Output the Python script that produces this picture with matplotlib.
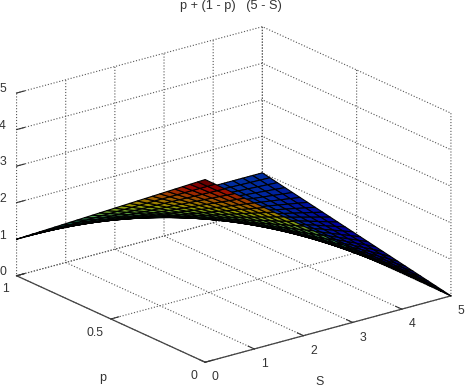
import matplotlib
matplotlib.use('Agg')
import matplotlib.pyplot as plt
from matplotlib.colors import ListedColormap
import numpy as np

plt.rcParams['font.family'] = ['Liberation Sans', 'DejaVu Sans']

S_values = [0.0, 0.2, 0.4, 0.6, 0.8, 1.0, 1.2, 1.4, 1.6, 1.8, 2.0, 2.2, 2.4,
            2.6, 2.8, 3.0, 3.2, 3.4, 3.6, 3.8, 4.0, 4.2, 4.4, 4.6, 4.8, 5.0]
p_values = [0.0, 0.04, 0.08, 0.12, 0.16, 0.2, 0.24, 0.28, 0.32, 0.36, 0.4, 0.44, 0.48,
            0.52, 0.56, 0.6, 0.64, 0.68, 0.72, 0.76, 0.8, 0.84, 0.88, 0.92, 0.96, 1.0]

# one row per p value, columns follow S_values
z_rows = [
    [5.0,4.8,4.6,4.4,4.2,4.0,3.8,3.6,3.4,3.2,3.0,2.8,2.6,2.4,2.2,2.0,1.8,1.6,1.4,1.2,1.0,.8,.6,.4,.2,0.0],
    [4.84,4.648,4.456,4.264,4.072,3.88,3.688,3.496,3.304,3.112,2.92,2.728,2.536,2.344,2.152,1.96,1.768,1.576,1.384,1.192,1.0,.808,.616,.424,.232,.04],
    [4.68,4.496,4.312,4.128,3.944,3.76,3.576,3.392,3.208,3.024,2.84,2.656,2.472,2.288,2.104,1.92,1.736,1.552,1.368,1.184,1.0,.816,.632,.448,.264,.08],
    [4.52,4.344,4.168,3.992,3.816,3.64,3.464,3.288,3.112,2.936,2.76,2.584,2.408,2.232,2.056,1.88,1.704,1.528,1.352,1.176,1.0,.824,.648,.472,.296,.12],
    [4.36,4.192,4.024,3.856,3.688,3.52,3.352,3.184,3.016,2.848,2.68,2.512,2.344,2.176,2.008,1.84,1.672,1.504,1.336,1.168,1.0,.832,.664,.496,.328,.16],
    [4.2,4.04,3.88,3.72,3.56,3.4,3.24,3.08,2.92,2.76,2.6,2.44,2.28,2.12,1.96,1.8,1.64,1.48,1.32,1.16,1.0,.84,.68,.52,.36,.2],
    [4.04,3.888,3.736,3.584,3.432,3.28,3.128,2.976,2.824,2.672,2.52,2.368,2.216,2.064,1.912,1.76,1.608,1.456,1.304,1.152,1.0,.848,.696,.544,.392,.24],
    [3.88,3.736,3.592,3.448,3.304,3.16,3.016,2.872,2.728,2.584,2.44,2.296,2.152,2.008,1.864,1.72,1.576,1.432,1.288,1.144,1.0,.856,.712,.568,.424,.28],
    [3.72,3.584,3.448,3.312,3.176,3.04,2.904,2.768,2.632,2.496,2.36,2.224,2.088,1.952,1.816,1.68,1.544,1.408,1.272,1.136,1.0,.864,.728,.592,.456,.32],
    [3.56,3.432,3.304,3.176,3.048,2.92,2.792,2.664,2.536,2.408,2.28,2.152,2.024,1.896,1.768,1.64,1.512,1.384,1.256,1.128,1.0,.872,.744,.616,.488,.36],
    [3.4,3.28,3.16,3.04,2.92,2.8,2.68,2.56,2.44,2.32,2.2,2.08,1.96,1.84,1.72,1.6,1.48,1.36,1.24,1.12,1.0,.88,.76,.64,.52,.4],
    [3.24,3.128,3.016,2.904,2.792,2.68,2.568,2.456,2.344,2.232,2.12,2.008,1.896,1.784,1.672,1.56,1.448,1.336,1.224,1.112,1.0,.888,.776,.664,.552,.44],
    [3.08,2.976,2.872,2.768,2.664,2.56,2.456,2.352,2.248,2.144,2.04,1.936,1.832,1.728,1.624,1.52,1.416,1.312,1.208,1.104,1.0,.896,.792,.688,.584,.48],
    [2.92,2.824,2.728,2.632,2.536,2.44,2.344,2.248,2.152,2.056,1.96,1.864,1.768,1.672,1.576,1.48,1.384,1.288,1.192,1.096,1.0,.904,.808,.712,.616,.52],
    [2.76,2.672,2.584,2.496,2.408,2.32,2.232,2.144,2.056,1.968,1.88,1.792,1.704,1.616,1.528,1.44,1.352,1.264,1.176,1.088,1.0,.912,.824,.736,.648,.56],
    [2.6,2.52,2.44,2.36,2.28,2.2,2.12,2.04,1.96,1.88,1.8,1.72,1.64,1.56,1.48,1.4,1.32,1.24,1.16,1.08,1.0,.92,.84,.76,.68,.6],
    [2.44,2.368,2.296,2.224,2.152,2.08,2.008,1.936,1.864,1.792,1.72,1.648,1.576,1.504,1.432,1.36,1.288,1.216,1.144,1.072,1.0,.928,.856,.784,.712,.64],
    [2.28,2.216,2.152,2.088,2.024,1.96,1.896,1.832,1.768,1.704,1.64,1.576,1.512,1.448,1.384,1.32,1.256,1.192,1.128,1.064,1.0,.936,.872,.808,.744,.68],
    [2.12,2.064,2.008,1.952,1.896,1.84,1.784,1.728,1.672,1.616,1.56,1.504,1.448,1.392,1.336,1.28,1.224,1.168,1.112,1.056,1.0,.944,.888,.832,.776,.72],
    [1.96,1.912,1.864,1.816,1.768,1.72,1.672,1.624,1.576,1.528,1.48,1.432,1.384,1.336,1.288,1.24,1.192,1.144,1.096,1.048,1.0,.952,.904,.856,.808,.76],
    [1.8,1.76,1.72,1.68,1.64,1.6,1.56,1.52,1.48,1.44,1.4,1.36,1.32,1.28,1.24,1.2,1.16,1.12,1.08,1.04,1.0,.96,.92,.88,.84,.8],
    [1.64,1.608,1.576,1.544,1.512,1.48,1.448,1.416,1.384,1.352,1.32,1.288,1.256,1.224,1.192,1.16,1.128,1.096,1.064,1.032,1.0,.968,.936,.904,.872,.84],
    [1.48,1.456,1.432,1.408,1.384,1.36,1.336,1.312,1.288,1.264,1.24,1.216,1.192,1.168,1.144,1.12,1.096,1.072,1.048,1.024,1.0,.976,.952,.928,.904,.88],
    [1.32,1.304,1.288,1.272,1.256,1.24,1.224,1.208,1.192,1.176,1.16,1.144,1.128,1.112,1.096,1.08,1.064,1.048,1.032,1.016,1.0,.984,.968,.952,.936,.92],
    [1.16,1.152,1.144,1.136,1.128,1.12,1.112,1.104,1.096,1.088,1.08,1.072,1.064,1.056,1.048,1.04,1.032,1.024,1.016,1.008,1.0,.992,.984,.976,.968,.96],
    [1.0,1.0,1.0,1.0,1.0,1.0,1.0,1.0,1.0,1.0,1.0,1.0,1.0,1.0,1.0,1.0,1.0,1.0,1.0,1.0,1.0,1.0,1.0,1.0,1.0,1.0],
]

S_ticks = [0, 1, 2, 3, 4, 5]
p_ticks = [0, 0.5, 1]
p_tick_labels = ['0', '0.5', '1']
z_ticks = [0, 1, 2, 3, 4, 5]

W, H = 467, 388
fig = plt.figure(figsize=(W / 100, H / 100), dpi=100)
ax = fig.add_axes([34.5 / W, -5.7 / H, 388 / W, 388 / H], projection='3d',
                  proj_type='ortho')
ax.view_init(elev=20.6, azim=-127.5)
ax.set_box_aspect((1, 1, 0.63), zoom=1.2)

# jet, darkened: the reference's fine black mesh dims the colours
jet = plt.get_cmap('jet')(np.linspace(0, 1, 256))
jet[:, :3] *= 0.62
dark_jet = ListedColormap(jet)

S_grid, p_grid = np.meshgrid(S_values, p_values)
surf = ax.plot_surface(S_grid, p_grid, np.array(z_rows), cmap=dark_jet, vmin=0, vmax=5,
                       rstride=1, cstride=1, edgecolor='black', linewidth=0.8,
                       shade=False, antialiased=True)
surf.set_clip_on(False)

ax.set_xlim(0, 5)
ax.set_ylim(0, 1)
ax.set_zlim(0, 5)
ax.set_xticks(S_ticks)
ax.set_yticks(p_ticks)
ax.set_yticklabels(p_tick_labels)
ax.set_zticks(z_ticks)
ax.zaxis.set_ticks_position('upper')
ax.tick_params(labelsize=8.8, colors='#333333')
ax.xaxis.set_tick_params(pad=-3)
ax.yaxis.set_tick_params(pad=-3.5)
ax.zaxis.set_tick_params(pad=-3.3)

# nudge tick labels the way the original sits them
for t in ax.xaxis.get_major_ticks():
    t.label1.set_ha('left')
for t in ax.yaxis.get_major_ticks():
    t.label1.set_ha('right')
for t in ax.zaxis.get_major_ticks():
    t.label1.set_va('baseline')

for axis in (ax.xaxis, ax.yaxis, ax.zaxis):
    axis.pane.set_facecolor((1, 1, 1, 0))
    axis.pane.set_edgecolor((1, 1, 1, 0))
    axis._axinfo['grid'].update(color='#555555', linestyle=':', linewidth=0.8)
    axis._axinfo['tick'].update(inward_factor=0.0, outward_factor=0.4)
ax.xaxis.line.set(color='#444444', linewidth=0.9)
ax.yaxis.line.set(color='#444444', linewidth=0.9)
ax.zaxis.line.set(color=(1, 1, 1, 0))

fig.text(231 / W, 1 - 6 / H, 'p + (1 - p)   (5 - S)', ha='center', va='center',
         fontsize=9.2, color='#333333')
fig.text(320 / W, 1 - 382 / H, 'S', ha='center', va='center', fontsize=9, color='#333333')
fig.text(103 / W, 1 - 378 / H, 'p', ha='center', va='center', fontsize=9, color='#333333')

plt.savefig('out.png', dpi=100)
